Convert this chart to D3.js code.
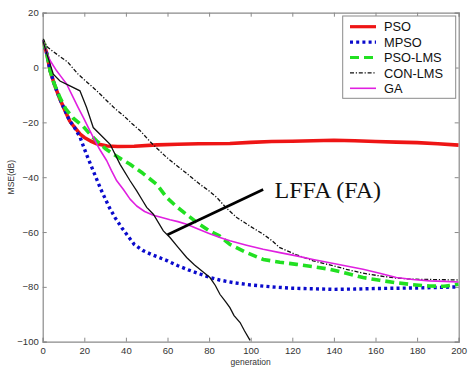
<!DOCTYPE html>
<html><head><meta charset="utf-8">
<script src="https://cdn.jsdelivr.net/npm/d3@7"></script>
<style>html,body{margin:0;padding:0;background:#fff;}svg{display:block;}</style>
</head><body><svg id="c" width="474" height="367"></svg>
<script>
const xTicks = [0,20,40,60,80,100,120,140,160,180,200];
const yTicks = [20,0,-20,-40,-60,-80,-100];
const seriesNames = ["PSO","MPSO","PSO-LMS","CON-LMS","GA"];

const psoGen = [0,2,3.5,6,8,10,13,15,18,20,23,26,31,36,44,55,65,75,90,100,110,120,130,140,150,160,170,180,190,200];
const psoVal = [10,5,-1,-7,-11,-14.5,-19.5,-21.5,-24.3,-25.5,-26.8,-27.8,-28.6,-28.8,-28.7,-28.2,-28,-27.8,-27.7,-27.3,-27,-26.9,-26.7,-26.5,-26.7,-27,-27.2,-27.4,-27.8,-28.3];

const mpsoGen = [0,2,3.5,6,8,10,13,15,18,21,24.3,28,32,35,38,41,44,48,52,56,60,65,70,76,80,85,92,100,110,120,130,140,150,160,170,180,190,200];
const mpsoVal = [10,5,-1,-7,-11,-14.5,-19.5,-21.5,-25.5,-31.6,-37.7,-44.5,-51,-55,-58.4,-61.5,-64.5,-66.7,-68.1,-69.3,-70.5,-72.3,-73.8,-75.4,-76.5,-77.5,-78.5,-79.3,-80,-80.5,-80.7,-80.9,-80.8,-80.6,-80.5,-80.4,-80.2,-80];

const lmsGen = [0,2,3.5,5,8.3,11,14.7,19.5,23,26,30,34,38,42,48,54.8,59.6,64,69,75,80,85,90,98,106,114,122,130,138,146,154,162,170,178,186,193,200];
const lmsVal = [10,5,-1,-4.9,-11,-15,-18.5,-21.5,-24.5,-26.8,-29.5,-31.6,-33.5,-35.3,-38.5,-42.6,-47.4,-50.5,-53.5,-57,-59.5,-61.4,-64.5,-67.5,-70,-71,-71.8,-72.6,-73.6,-75,-76.6,-77.6,-78.5,-79.2,-79.7,-79.8,-79];

const conGen = [0,2.5,7.4,12,17,22,26,30,34.5,38.8,43,46.8,51.6,55,59.6,64,69,75.6,80,83.7,88,93.3,100,106,110,114,122,130,138,146,154,162,170,178,186,193,200];
const conVal = [10.5,7.3,4.5,2,-2.4,-5.8,-8.5,-11.5,-14.8,-17.5,-20.5,-23,-27,-29.5,-32.8,-35.5,-38.5,-42.6,-45,-47.4,-51,-54.7,-58,-60.8,-63,-65.7,-68.3,-70.5,-72,-73.6,-75,-76,-76.8,-77.2,-77.3,-77.4,-77.5];

const gaGen = [0,2,4,6.7,9,11.5,14.7,17,19.5,22,24.3,27.5,30.8,33,35.6,38.8,42,45.2,49,53.2,56.4,61.2,65,69.2,75,80,85.2,90,98,106,114,122,130,138,146,154,162,170,178,186,193,200];
const gaVal = [10,5,2,-1.2,-3.5,-6,-11,-14.5,-18.2,-22,-25.5,-30,-34,-37.5,-41.3,-44.5,-48,-50.5,-52.5,-53.9,-54.5,-55.5,-56.2,-57.2,-59,-60.5,-62,-63.2,-64.8,-66.3,-67.5,-68.7,-70,-71.2,-72.4,-73.6,-75,-76.6,-77.3,-77.8,-78,-78.2];

const lffaGen = [0,2,5.1,8.3,13.1,17.9,21.1,24.3,29.1,32.4,37.2,42,45.2,48,50,53.2,58,61.2,65,69.2,73,77,80.4,83,85.2,88,90,92,94.9,97,99.7];
const lffaVal = [10,5,-2.4,-4.9,-6.7,-8.5,-14.6,-21.9,-25.5,-28,-35.3,-41.3,-45,-48.5,-51,-53.5,-59.6,-62,-65.5,-69.3,-72,-74.5,-76.6,-79.5,-82.7,-85.5,-87.6,-90.5,-93,-96,-99.5];

const annotGen = [60,106];
const annotVal = [-61,-44.5];
const annotLabel = "LFFA (FA)";
const annotLabelPos = [111.5,-47.5];

const svg = d3.select("#c");
const L = 42.7, R = 458.7, T = 12.7, B = 341.7;
const x = d3.scaleLinear().domain([0,200]).range([L,R]);
const y = d3.scaleLinear().domain([-100,20]).range([B,T]);

svg.append("defs").append("clipPath").attr("id","clip")
  .append("rect").attr("x",L).attr("y",T).attr("width",R-L).attr("height",B-T);

const axisColor = "#8a8a8a";
const tickFont = "Liberation Sans, Arial, sans-serif";

// axes (inside ticks on all four sides)
const gB = svg.append("g").attr("transform",`translate(0,${B})`)
  .call(d3.axisBottom(x).tickValues(xTicks).tickSize(-4).tickPadding(6));
const gT = svg.append("g").attr("transform",`translate(0,${T})`)
  .call(d3.axisTop(x).tickValues(xTicks).tickSize(-4).tickFormat(""));
const gL = svg.append("g").attr("transform",`translate(${L},0)`)
  .call(d3.axisLeft(y).tickValues(yTicks).tickSize(-4).tickPadding(4));
const gR = svg.append("g").attr("transform",`translate(${R},0)`)
  .call(d3.axisRight(y).tickValues(yTicks).tickSize(-4).tickFormat(""));
[gB,gT,gL,gR].forEach(g=>{
  g.selectAll(".domain").attr("stroke",axisColor).attr("stroke-width",1.2);
  g.selectAll(".tick line").attr("stroke",axisColor).attr("stroke-width",1);
  g.selectAll(".tick text").attr("fill","#333").attr("font-family",tickFont).attr("font-size","9.5px");
});

const line = d3.line().x(d=>x(d[0])).y(d=>y(d[1]));
const zip = (a,b)=>a.map((v,i)=>[v,b[i]]);
const plot = svg.append("g").attr("clip-path","url(#clip)");

const series = [
  {name:"PSO", data:zip(psoGen,psoVal), color:"#ee1515", width:3.6, dash:null},
  {name:"MPSO", data:zip(mpsoGen,mpsoVal), color:"#0a0acc", width:3.4, dash:"3,3.2"},
  {name:"PSO-LMS", data:zip(lmsGen,lmsVal), color:"#22e022", width:3.6, dash:"9,5"},
  {name:"CON-LMS", data:zip(conGen,conVal), color:"#111", width:1.3, dash:"4,1.8,1.2,1.8"},
  {name:"GA", data:zip(gaGen,gaVal), color:"#e020e0", width:1.6, dash:null}
];
series.forEach(s=>{
  plot.append("path").attr("d",line(s.data)).attr("fill","none")
    .attr("stroke",s.color).attr("stroke-width",s.width)
    .attr("stroke-dasharray",s.dash).attr("stroke-linejoin","round");
});
plot.append("path").attr("d",line(zip(lffaGen,lffaVal))).attr("fill","none")
  .attr("stroke","#111").attr("stroke-width",1.3);

// annotation
svg.append("path").attr("d",line(zip(annotGen,annotVal))).attr("fill","none")
  .attr("stroke","#000").attr("stroke-width",2.6);
svg.append("text").attr("x",x(annotLabelPos[0])).attr("y",y(annotLabelPos[1]))
  .attr("font-family","Liberation Serif, Times New Roman, serif").attr("font-size","24px")
  .attr("fill","#111").text(annotLabel);

// legend
const lg = svg.append("g");
lg.append("rect").attr("x",342.7).attr("y",16).attr("width",113).attr("height",82.3)
  .attr("fill","#fff").attr("stroke",axisColor).attr("stroke-width",1);
series.forEach((s,i)=>{
  const yy = 26.7 + i*15.4;
  lg.append("line").attr("x1",350).attr("x2",376).attr("y1",yy).attr("y2",yy)
    .attr("stroke",s.color).attr("stroke-width",Math.min(s.width,3.2)).attr("stroke-dasharray",s.dash);
  lg.append("text").attr("x",384).attr("y",yy).attr("dy","0.36em")
    .attr("font-family",tickFont).attr("font-size","12.8px").attr("fill","#111").text(seriesNames[i]);
});

// axis labels
svg.append("text").attr("transform",`translate(14,${(T+B)/2}) rotate(-90)`)
  .attr("text-anchor","middle").attr("font-family",tickFont).attr("font-size","8.5px")
  .attr("fill","#333").text("MSE(dB)");
svg.append("text").attr("x",(L+R)/2).attr("y",364.5)
  .attr("text-anchor","middle").attr("font-family",tickFont).attr("font-size","8.5px")
  .attr("fill","#333").text("generation");
</script></body></html>
